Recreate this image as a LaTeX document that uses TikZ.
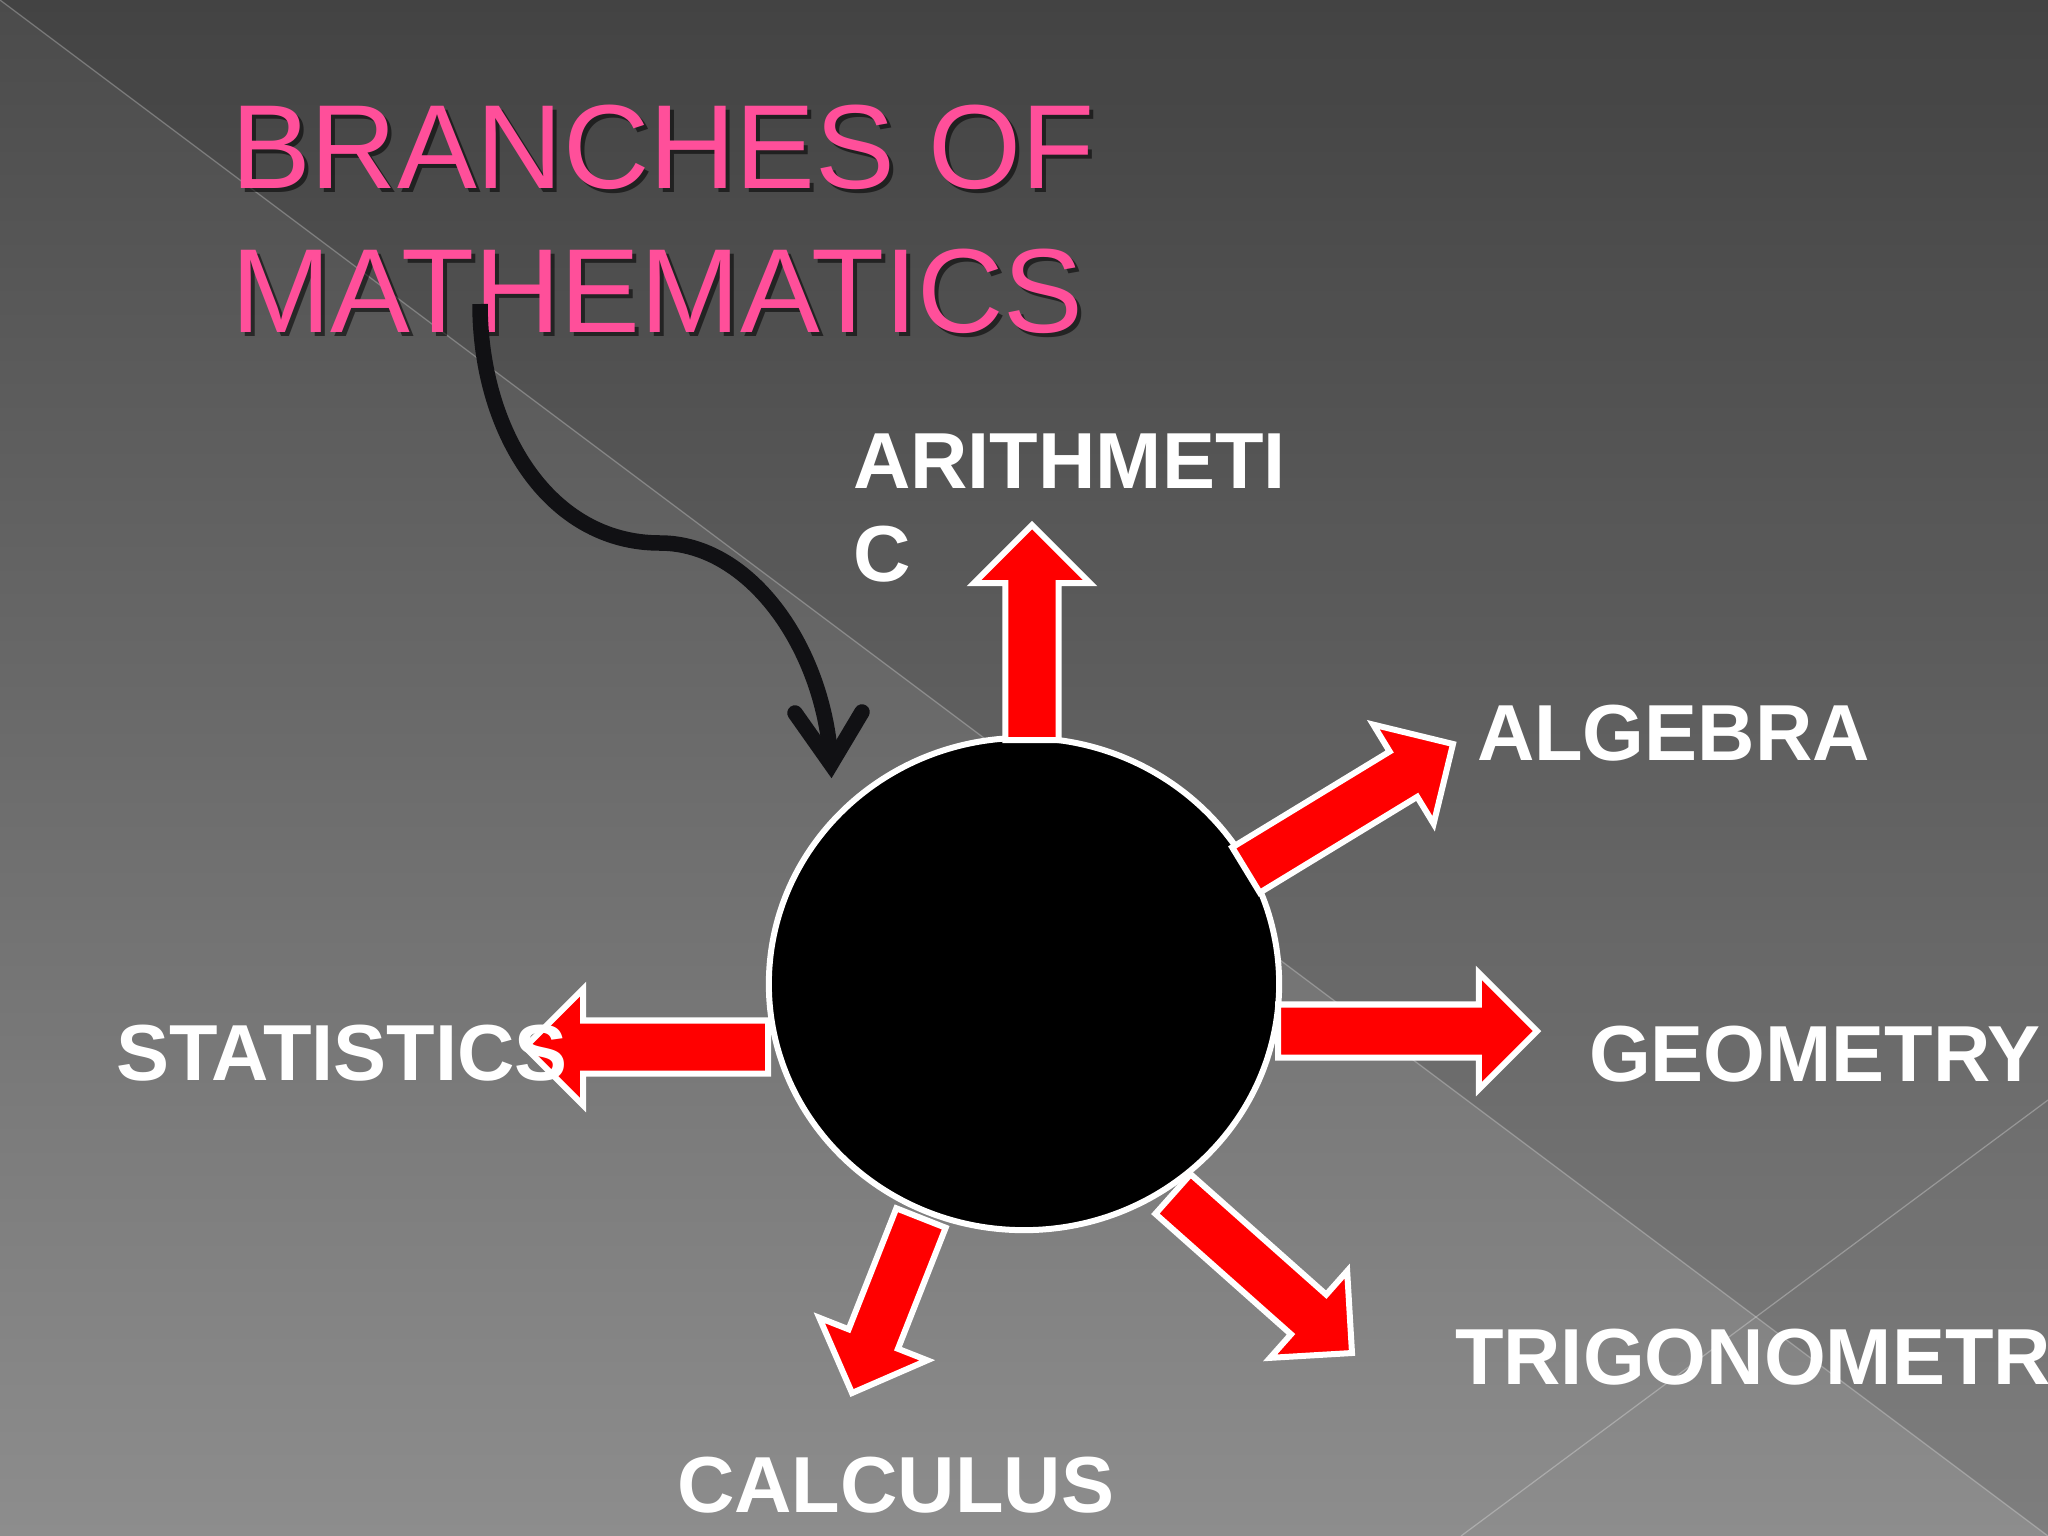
\documentclass[tikz,border=0pt]{standalone}
\usepackage{fontspec}
\setmainfont{Liberation Sans}
\usetikzlibrary{calc,shapes.geometric}
\definecolor{titlepink}{HTML}{FF4F9A}
\definecolor{bgtop}{HTML}{4B4B4B}
\definecolor{bgbot}{HTML}{8D8D8D}
\definecolor{curvecol}{HTML}{111114}
\newcommand{\blockarrow}[2]{%
  \path ($(#2)!0.58cm!(#1)$) coordinate (hb);
  \draw[redarrow] ($(#1)!0.265cm!90:(#2)$) -- ($(hb)!0.265cm!90:(#2)$) -- ($(hb)!0.58cm!90:(#2)$) -- (#2)
    -- ($(hb)!0.58cm!-90:(#2)$) -- ($(hb)!0.265cm!-90:(#2)$) -- ($(#1)!0.265cm!-90:(#2)$) -- cycle;}
\begin{document}
\begin{tikzpicture}[x=0.01cm,y=0.01cm,
  redarrow/.style={fill=red, draw=white, line width=0.06cm, line join=miter},
  lbl/.style={text=white, font=\bfseries\fontsize{22.6}{27}\selectfont, anchor=base west, inner sep=0pt, outer sep=0pt},
  titletext/.style={text=titlepink, font=\fontsize{34}{41}\selectfont, anchor=base west, inner sep=0pt, outer sep=0pt},
  titleshadow/.style={text=black, text opacity=0.55, font=\fontsize{34}{41}\selectfont, anchor=base west, inner sep=0pt, outer sep=0pt},
  faint/.style={draw=white, opacity=0.28, line width=0.35pt},
  curvestroke/.style={draw=curvecol, line width=0.155cm}]
\useasboundingbox (0,-1536) rectangle (2048,0);
\begin{scope}
\clip (0,-1536) rectangle (2048,0);
% background
\shade[top color=bgtop, bottom color=bgbot] (0,-1536) rectangle (2048,0);
\fill[black, opacity=0.1] (0,0) -- (2048,0) -- (2048,-1536) -- cycle;
\draw[faint] (0,0) -- (2048,-1536);
\draw[faint] (2048,-1100) -- (1461,-1536);

% title
\node[titleshadow] (t1s) at (235,-192) {BRANCHES OF};
\node[titleshadow] (t2s) at (235,-336) {MATHEMATICS};
\node[titletext] (t1) at (231,-188) {BRANCHES OF};
\node[titletext] (t2) at (231,-332) {MATHEMATICS};

% hub
\node[ellipse, draw=white, fill=black, line width=0.06cm, minimum width=5.1cm, minimum height=4.92cm, inner sep=0pt] (hub) at (1024,-984) {};

% arrows
\coordinate (arithB) at (1032,-740);  \coordinate (arithT) at (1032,-525);
\coordinate (algB) at (1246,-870);    \coordinate (algT) at (1453,-744);
\coordinate (geoB) at (1278,-1031);   \coordinate (geoT) at (1537,-1031);
\coordinate (statB) at (768,-1047);   \coordinate (statT) at (525,-1047);
\coordinate (trigB) at (1173,-1194);  \coordinate (trigT) at (1352,-1353);
\coordinate (calcB) at (921,-1218);   \coordinate (calcT) at (852,-1393);
\blockarrow{arithB}{arithT}
\blockarrow{algB}{algT}
\blockarrow{geoB}{geoT}
\blockarrow{statB}{statT}
\blockarrow{trigB}{trigT}
\blockarrow{calcB}{calcT}

% curved arrow from title to hub
\coordinate (cstart) at (480,-304);
\coordinate (ctip) at (831,-764);
\coordinate (cw1) at (795,-713);
\coordinate (cw2) at (862,-712);
\draw[curvestroke] (cstart) .. controls (480,-431) and (549,-543) .. (660,-543)
  .. controls (751,-543) and (825,-650) .. (ctip);
\draw[curvestroke, line cap=round, line join=miter] (cw1) -- (ctip) -- (cw2);

% labels
\node[lbl] (arith1) at (853,-488) {ARITHMETI};
\node[lbl] (arith2) at (853,-581) {C};
\node[lbl] (alg) at (1477,-760) {ALGEBRA};
\node[lbl] (geo) at (1589,-1081) {GEOMETRY};
\node[lbl] (trig) at (1455,-1384) {TRIGONOMETR};
\node[lbl] (stat) at (116,-1080) {STATISTICS};
\node[lbl] (calc) at (677,-1512) {CALCULUS};
\end{scope}
\end{tikzpicture}
\end{document}
